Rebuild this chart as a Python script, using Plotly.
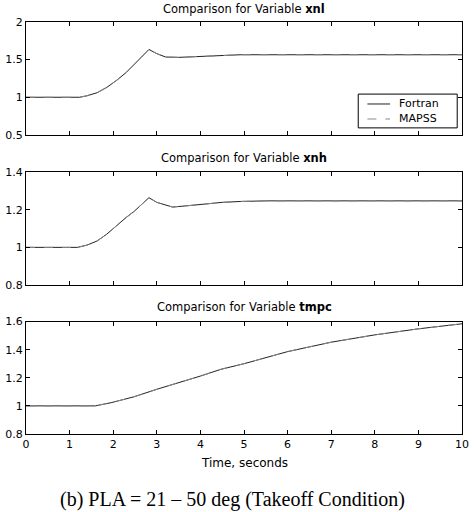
import plotly.graph_objs as go

# time / value pairs (Fortran and MAPSS lie on top of each other)
t_xnl = [0, 1.23, 1.4, 1.63, 1.85, 2.09, 2.3, 2.47, 2.65, 2.82, 3.0, 3.2, 3.5, 3.74, 4.0, 4.5, 4.93, 5.5, 10]
xnl = [1.0, 1.0, 1.02, 1.06, 1.13, 1.23, 1.33, 1.43, 1.53, 1.635, 1.58, 1.535, 1.53, 1.535, 1.55, 1.56, 1.565, 1.565, 1.565]

t_xnh = [0, 1.18, 1.4, 1.63, 1.85, 2.09, 2.3, 2.47, 2.65, 2.82, 3.0, 3.36, 3.7, 4.0, 4.5, 4.93, 5.5, 10]
xnh = [1.0, 1.0, 1.012, 1.034, 1.07, 1.12, 1.16, 1.19, 1.23, 1.265, 1.24, 1.215, 1.222, 1.23, 1.24, 1.245, 1.248, 1.248]

t_tmpc = [0, 1.59, 1.97, 2.47, 3.01, 3.55, 4.0, 4.47, 5, 6, 7, 8, 9, 10]
tmpc = [1.0, 1.0, 1.024, 1.064, 1.119, 1.167, 1.212, 1.26, 1.30, 1.386, 1.453, 1.505, 1.548, 1.584]

variables = ['xnl', 'xnh', 'tmpc']
series_names = ['Fortran', 'MAPSS']
y_ranges = [[0.5, 2], [0.8, 1.4], [0.8, 1.6]]
y_dticks = [0.5, 0.2, 0.2]
x_ticks = list(range(0, 11))

font = 'DejaVu Sans, Arial, sans-serif'
domains = [[0.726, 1.0], [0.362, 0.635], [0.0, 0.273]]
title_y = [1.032, 0.670, 0.308]
styles = [dict(color='#222222', width=1), dict(color='#888888', width=1, dash='dash')]

series = [(t_xnl, xnl), (t_xnh, xnh), (t_tmpc, tmpc)]

fig = go.Figure()
for i, (t, v) in enumerate(series):
    xa = 'x' if i == 0 else 'x%d' % (i + 1)
    ya = 'y' if i == 0 else 'y%d' % (i + 1)
    for name, style in zip(series_names, styles):
        fig.add_trace(go.Scatter(x=t, y=v, mode='lines', name=name, xaxis=xa, yaxis=ya,
                                 line=style, showlegend=False))

axis_style = dict(showline=True, linecolor='black', linewidth=1, mirror='allticks',
                  ticks='inside', ticklen=4, tickcolor='black', showgrid=False, zeroline=False,
                  automargin=False, tickfont=dict(family=font, size=11, color='black'))

layout = dict(
    width=474, height=512,
    margin=dict(l=26, r=12, t=22, b=78),
    paper_bgcolor='white', plot_bgcolor='white',
    showlegend=False,
)
for i in range(3):
    suffix = '' if i == 0 else str(i + 1)
    layout['xaxis' + suffix] = dict(axis_style, range=[0, 10], tickvals=x_ticks,
                                    showticklabels=(i == 2),
                                    anchor='y' + suffix,
                                    **({} if i == 0 else {'matches': 'x'}))
    layout['yaxis' + suffix] = dict(axis_style, range=y_ranges[i], dtick=y_dticks[i],
                                    domain=domains[i], anchor='x' + suffix)

fig.update_layout(**layout)

annotations = []
for i, name in enumerate(variables):
    annotations.append(dict(text='Comparison for Variable <b>%s</b>' % name, x=0.5, y=title_y[i],
                            xref='paper', yref='paper', showarrow=False, yanchor='middle',
                            font=dict(family=font, size=11.5, color='black')))
annotations.append(dict(text='Time, seconds', x=0.5, y=-0.07, xref='paper', yref='paper',
                        showarrow=False, yanchor='middle',
                        font=dict(family=font, size=12, color='black')))
annotations.append(dict(text='(b) PLA = 21 \u2013 50 deg (Takeoff Condition)', x=0.473, y=-0.158,
                        xref='paper', yref='paper', showarrow=False, yanchor='middle',
                        font=dict(family='Liberation Serif, Times New Roman, serif', size=20, color='black')))

# MATLAB-style legend box in the top panel, drawn by hand to get its compact size
shapes = [dict(type='rect', xref='paper', yref='paper', x0=0.762, x1=0.989, y0=0.743, y1=0.825,
               line=dict(color='black', width=1), fillcolor='white', layer='above')]
legend_y = [0.801, 0.7646]
for name, style, ly in zip(series_names, styles, legend_y):
    shapes.append(dict(type='line', xref='paper', yref='paper', x0=0.783, x1=0.835, y0=ly, y1=ly,
                       line=style, layer='above'))
    annotations.append(dict(text=name, x=0.851, y=ly, xref='paper', yref='paper', showarrow=False,
                            xanchor='left', yanchor='middle',
                            font=dict(family=font, size=11, color='black')))

fig.update_layout(annotations=annotations, shapes=shapes)

# drop the default 8px page margin so the figure fills the window exactly
fig.write_html("out.html", config={'displayModeBar': False},
               post_script="document.body.style.margin='0';")
